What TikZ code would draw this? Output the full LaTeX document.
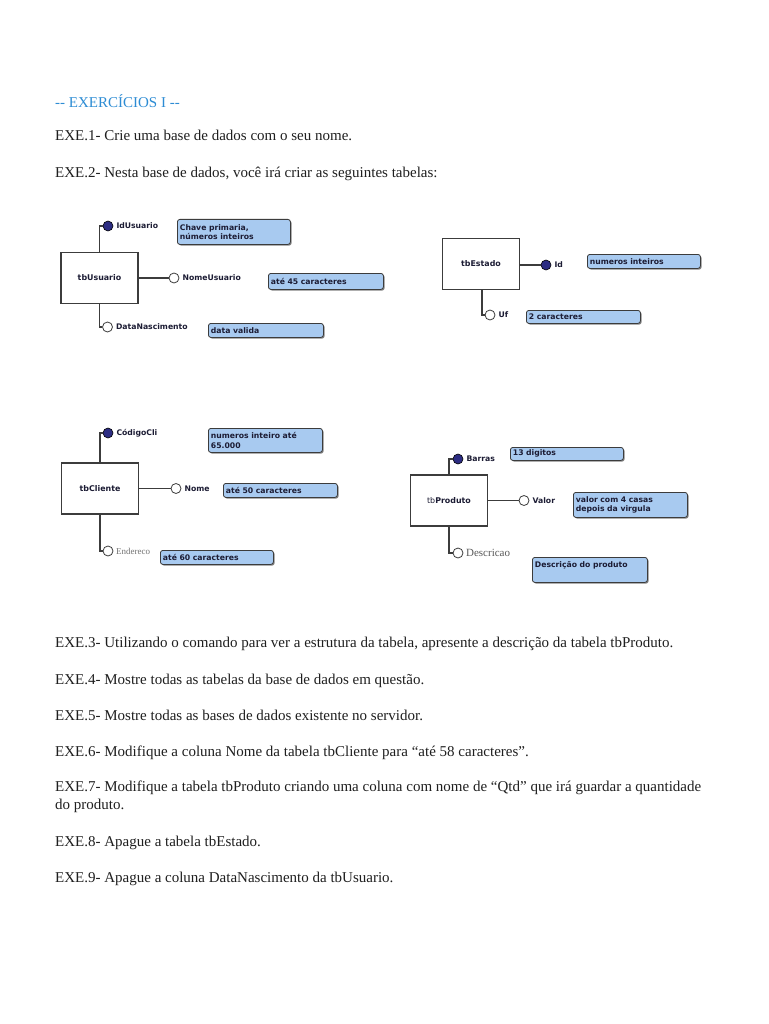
\documentclass[tikz,border=0pt]{standalone}
\usepackage{fontspec}
\setmainfont{Liberation Serif}
\newfontfamily\diagfont{DejaVu Sans}
\usetikzlibrary{positioning,shadows}
\definecolor{titulo}{RGB}{45,140,212}
\definecolor{notaazul}{RGB}{168,202,240}
\definecolor{chave}{RGB}{44,44,130}
\definecolor{tinta}{RGB}{28,28,52}
\definecolor{linha}{RGB}{60,60,60}
\tikzset{
  texto/.style={anchor=base west, inner sep=0pt, font=\fontsize{15}{18}\selectfont, text=black!88},
  tabela/.style={draw=linha, line width=1.2pt, fill=white, minimum width=77pt, minimum height=51pt, inner sep=0pt, font=\diagfont\bfseries\fontsize{7.9}{9}\selectfont, text=tinta},
  pk/.style={circle, draw=black, fill=chave, minimum size=10pt, inner sep=0pt, line width=0.6pt},
  campo/.style={circle, draw=linha, fill=white, minimum size=10pt, inner sep=0pt, line width=0.8pt},
  rotulo/.style={anchor=west, inner sep=0pt, font=\diagfont\bfseries\fontsize{7.7}{9}\selectfont, text=tinta},
  rotuloserif/.style={anchor=west, inner sep=0pt, text=black!55},
  nota/.style={draw=linha, line width=0.8pt, fill=notaazul, rounded corners=2.5pt, anchor=north west, align=left, inner sep=2.5pt,
    font=\diagfont\bfseries\fontsize{7.7}{9.5}\selectfont, text=tinta,
    drop shadow={shadow xshift=1.2pt, shadow yshift=-1.2pt, fill=black!60, opacity=0.8}},
  liga/.style={draw=linha, line width=1.1pt},
}
\begin{document}
\begin{tikzpicture}[x=1pt, y=-1pt]
  \fill[white] (0,0) rectangle (768,1024);
  \useasboundingbox (0,0) rectangle (768,1024);

  % enunciado
  \node[texto, text=titulo] (titulo) at (55,107.5) {-{}- EXERCÍCIOS I -{}-};
  \foreach \n/\yb/\t in {1/141/{EXE.1- Crie uma base de dados com o seu nome.},
    2/178/{EXE.2- Nesta base de dados, você irá criar as seguintes tabelas:},
    3/647/{EXE.3- Utilizando o comando para ver a estrutura da tabela, apresente a descrição da tabela tbProduto.},
    4/684/{EXE.4- Mostre todas as tabelas da base de dados em questão.},
    5/720/{EXE.5- Mostre todas as bases de dados existente no servidor.},
    6/756/{EXE.6- Modifique a coluna Nome da tabela tbCliente para “até 58 caracteres”.},
    7/791/{EXE.7- Modifique a tabela tbProduto criando uma coluna com nome de “Qtd” que irá guardar a quantidade},
    7b/809/{do produto.},
    8/846/{EXE.8- Apague a tabela tbEstado.},
    9/882/{EXE.9- Apague a coluna DataNascimento da tbUsuario.}} {
    \node[texto] (exe\n) at (55,\yb) {\t};
  }

  % tabelas
  \node[tabela] (usuario) at (99.5,278) {tbUsuario};
  \node[tabela] (estado) at (481,264) {tbEstado};
  \node[tabela] (cliente) at (100,488.5) {tbCliente};
  \node[tabela] (produto) at (449,500.5) {{\mdseries tb}Produto};

  % campos
  \node[pk] (usuarioId) at (108,226) {};
  \node[campo] (usuarioNome) at (174,278) {};
  \node[campo] (usuarioNasc) at (107.5,327) {};
  \node[pk] (estadoId) at (546,265) {};
  \node[campo] (estadoUf) at (490,315) {};
  \node[pk] (clienteCod) at (108,433) {};
  \node[campo] (clienteNome) at (176,488.5) {};
  \node[campo] (clienteEnd) at (108,551) {};
  \node[pk] (produtoBarras) at (458,459) {};
  \node[campo] (produtoValor) at (524,500.5) {};
  \node[campo] (produtoDesc) at (458,553) {};

  \node[rotulo, right=3pt of usuarioId] (usuarioIdTxt) {IdUsuario};
  \node[rotulo, right=3pt of usuarioNome] (usuarioNomeTxt) {NomeUsuario};
  \node[rotulo, right=3pt of usuarioNasc] (usuarioNascTxt) {DataNascimento};
  \node[rotulo, right=3pt of estadoId] (estadoIdTxt) {Id};
  \node[rotulo, right=3pt of estadoUf] (estadoUfTxt) {Uf};
  \node[rotulo, right=3pt of clienteCod] (clienteCodTxt) {CódigoCli};
  \node[rotulo, right=3pt of clienteNome] (clienteNomeTxt) {Nome};
  \node[rotuloserif, font=\fontsize{9}{10}\selectfont, right=2.5pt of clienteEnd] (clienteEndTxt) {Endereco};
  \node[rotulo, right=3pt of produtoBarras] (produtoBarrasTxt) {Barras};
  \node[rotulo, right=3pt of produtoValor] (produtoValorTxt) {Valor};
  \node[rotuloserif, font=\fontsize{11}{12}\selectfont, text=black!65, right=2.5pt of produtoDesc] (produtoDescTxt) {Descricao};

  % ligacoes
  \draw[liga] (usuario.north) |- (usuarioId.west);
  \draw[liga] (usuario.east) -- (usuarioNome.west);
  \draw[liga] (usuario.south) |- (usuarioNasc.west);
  \draw[liga] (estado.east |- estadoId) -- (estadoId.west);
  \draw[liga] ([xshift=1pt]estado.south) |- (estadoUf.west);
  \draw[liga] (cliente.north) |- (clienteCod.west);
  \draw[liga] (cliente.east) -- (clienteNome.west);
  \draw[liga] (cliente.south) |- (clienteEnd.west);
  \draw[liga] (produto.north) |- (produtoBarras.west);
  \draw[liga] (produto.east) -- (produtoValor.west);
  \draw[liga] (produto.south) |- (produtoDesc.west);

  % notas
  \foreach \nm/\x/\y/\tw/\h/\t in {chave/177/219/108/25/{Chave primaria,\\números inteiros},
    nomeusu/268/273/110/16/{até 45 caracteres},
    data/208/323/110/14/{data valida},
    idest/587/254/108/14/{numeros inteiros},
    uf/526/310/109/13/{2 caracteres},
    codcli/208/428/109/24/{numeros inteiro até\\65.000},
    nomecli/223/483/109/14/{até 50 caracteres},
    endcli/160/550/108/14/{até 60 caracteres},
    barras/510/447/108/13/{13 digitos},
    valor/573/492/109/25/{valor com 4 casas\\depois da virgula}} {
    \node[nota, text width=\tw pt, minimum height=\h pt] (nota\nm) at (\x,\y) {\t};
  }
  \node[nota, text width=110pt, minimum height=25pt, text depth=11pt] (notadesc) at (532,557) {Descrição do produto};
\end{tikzpicture}
\end{document}
